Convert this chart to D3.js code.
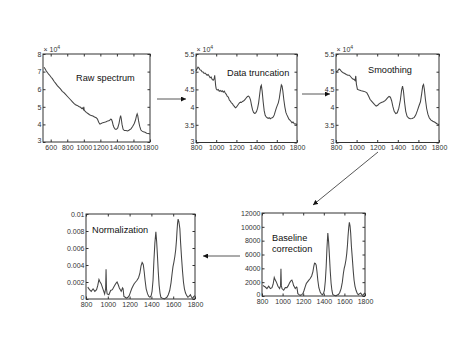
<!DOCTYPE html>
<html><head><meta charset="utf-8">
<script src="https://cdn.jsdelivr.net/npm/d3@7"></script>
<style>body{margin:0;background:#fff}svg{display:block}text{font-family:"Liberation Sans",Arial,sans-serif}</style>
</head><body>
<svg id="c" width="474" height="355"></svg>
<script>
// ---- data (wavenumber, intensity) ----
const rawSpectrum = [[520,7.25],[530,7.18],[545,7.05],[560,6.95],[575,6.85],[590,6.78],[605,6.68],[620,6.6],[640,6.45],[660,6.33],[680,6.2],[700,6.1],[720,6.0],[740,5.88],[760,5.8],[780,5.7],[800,5.6],[820,5.5],[840,5.4],[860,5.3],[880,5.2],[900,5.12],[920,5.08],[940,5.02],[960,4.98],[975,4.9],[985,4.93],[995,4.85],[1000,5.0],[1005,4.82],[1015,4.75],[1030,4.68],[1050,4.62],[1070,4.55],[1090,4.5],[1110,4.48],[1130,4.42],[1150,4.38],[1165,4.3],[1180,4.12],[1195,4.02],[1210,4.05],[1230,4.1],[1250,4.12],[1270,4.15],[1290,4.2],[1310,4.22],[1325,4.3],[1335,4.28],[1345,4.15],[1355,3.95],[1365,3.82],[1380,3.72],[1395,3.72],[1410,3.8],[1425,4.05],[1437,4.35],[1445,4.5],[1452,4.35],[1462,4.0],[1475,3.72],[1490,3.65],[1510,3.65],[1530,3.63],[1550,3.68],[1570,3.75],[1590,3.88],[1610,4.05],[1625,4.25],[1637,4.5],[1645,4.6],[1652,4.5],[1662,4.2],[1675,3.9],[1690,3.68],[1705,3.62],[1720,3.58],[1740,3.55],[1760,3.5],[1780,3.48],[1800,3.45]];

const truncatedSpectrum = [[800,5.02],[810,5.08],[820,5.13],[830,5.1],[840,5.05],[850,5.04],[860,5.0],[870,4.99],[880,4.95],[890,4.96],[900,4.93],[910,4.9],[920,4.92],[930,4.88],[940,4.83],[950,4.85],[960,4.78],[970,4.76],[980,4.8],[985,4.9],[990,4.75],[995,4.6],[1000,4.52],[1010,4.48],[1020,4.5],[1030,4.45],[1040,4.47],[1050,4.44],[1060,4.46],[1070,4.42],[1080,4.45],[1090,4.4],[1100,4.36],[1110,4.3],[1120,4.28],[1130,4.2],[1140,4.17],[1150,4.12],[1160,4.1],[1170,4.05],[1180,4.02],[1190,3.98],[1200,4.0],[1210,4.04],[1220,4.08],[1230,4.12],[1240,4.14],[1250,4.13],[1260,4.16],[1270,4.17],[1280,4.2],[1290,4.23],[1300,4.27],[1310,4.3],[1320,4.31],[1330,4.28],[1340,4.2],[1350,4.05],[1360,3.92],[1370,3.85],[1380,3.82],[1390,3.83],[1400,3.88],[1410,3.97],[1420,4.12],[1430,4.35],[1440,4.58],[1447,4.62],[1455,4.45],[1465,4.15],[1475,3.9],[1485,3.77],[1495,3.72],[1505,3.7],[1515,3.68],[1525,3.7],[1535,3.67],[1545,3.69],[1555,3.7],[1565,3.72],[1575,3.78],[1585,3.88],[1595,3.97],[1605,4.05],[1615,4.12],[1625,4.25],[1635,4.45],[1645,4.63],[1652,4.6],[1660,4.45],[1670,4.2],[1680,4.0],[1690,3.85],[1700,3.78],[1710,3.72],[1720,3.66],[1730,3.63],[1740,3.6],[1750,3.56],[1760,3.58],[1770,3.54],[1780,3.52],[1790,3.53],[1800,3.5]];

const smoothedSpectrum = [[800,5.0],[815,5.02],[830,5.08],[840,5.06],[855,5.0],[870,4.97],[885,4.95],[900,4.92],[915,4.9],[930,4.9],[945,4.85],[960,4.8],[975,4.78],[985,4.75],[992,4.88],[998,4.65],[1008,4.5],[1025,4.48],[1045,4.46],[1065,4.45],[1085,4.43],[1100,4.4],[1115,4.32],[1130,4.22],[1145,4.17],[1160,4.12],[1175,4.07],[1190,4.03],[1205,4.05],[1220,4.1],[1240,4.13],[1260,4.15],[1280,4.19],[1300,4.26],[1315,4.3],[1328,4.28],[1340,4.18],[1352,4.02],[1365,3.88],[1380,3.82],[1395,3.84],[1410,3.97],[1425,4.2],[1437,4.48],[1446,4.59],[1455,4.45],[1465,4.15],[1477,3.88],[1490,3.74],[1505,3.69],[1520,3.67],[1540,3.68],[1560,3.71],[1575,3.78],[1590,3.9],[1605,4.03],[1620,4.15],[1632,4.38],[1642,4.6],[1650,4.64],[1658,4.5],[1668,4.22],[1680,3.96],[1692,3.8],[1705,3.7],[1720,3.64],[1740,3.6],[1760,3.57],[1780,3.53],[1800,3.5]];

const baselineSpectrum = [[810,1550],[820,1400],[832,1300],[848,1060],[865,1410],[881,1060],[897,1200],[908,1700],[919,2670],[929,2300],[939,2040],[955,1410],[971,1070],[980,1500],[984,3950],[988,1500],[994,1070],[1010,830],[1026,1210],[1042,1210],[1055,1500],[1068,1900],[1080,2200],[1090,2300],[1100,1900],[1106,1550],[1123,1070],[1135,1300],[1139,1250],[1148,340],[1160,200],[1171,100],[1185,200],[1197,340],[1208,800],[1219,1310],[1230,1800],[1242,2040],[1255,2300],[1268,2520],[1282,2900],[1294,3500],[1303,4300],[1310,4750],[1318,4700],[1326,4470],[1334,3500],[1342,2280],[1352,1200],[1365,580],[1376,300],[1387,190],[1398,400],[1406,830],[1415,2200],[1423,4230],[1431,7000],[1439,9090],[1447,7800],[1455,5690],[1463,3500],[1471,1800],[1479,800],[1487,240],[1500,100],[1519,0],[1530,150],[1542,200],[1555,500],[1568,1070],[1580,2000],[1590,3260],[1598,4000],[1606,4470],[1615,5200],[1623,6170],[1630,7400],[1635,8600],[1642,9900],[1648,10640],[1655,10100],[1661,9090],[1668,7200],[1677,5440],[1686,3600],[1694,2280],[1703,1400],[1713,830],[1724,400],[1735,190],[1745,300],[1758,440],[1768,200],[1777,100],[1790,300],[1800,440]];

const normalizedSpectrum = [[816,0.0014],[832,0.0011],[848,0.0009],[865,0.0012],[881,0.0009],[897,0.0011],[908,0.0016],[919,0.0023],[929,0.002],[939,0.0018],[955,0.0012],[971,0.0006],[980,0.0012],[984,0.0035],[988,0.0012],[994,0.0006],[1010,0.0005],[1026,0.001],[1042,0.0011],[1055,0.0014],[1068,0.0017],[1078,0.0019],[1085,0.002],[1095,0.0017],[1106,0.0013],[1123,0.0009],[1135,0.0013],[1140,0.0012],[1148,0.0003],[1160,0.0002],[1171,0.0001],[1185,0.0002],[1197,0.0004],[1208,0.0008],[1219,0.0012],[1230,0.0015],[1242,0.0018],[1255,0.002],[1268,0.0022],[1282,0.0025],[1294,0.003],[1305,0.0039],[1315,0.0043],[1320,0.0042],[1326,0.004],[1334,0.0032],[1342,0.0022],[1352,0.0012],[1365,0.0006],[1376,0.0003],[1387,0.0002],[1398,0.0004],[1406,0.0009],[1415,0.0022],[1423,0.0045],[1432,0.0066],[1441,0.0079],[1448,0.0068],[1455,0.0052],[1463,0.0032],[1471,0.0016],[1479,0.0007],[1487,0.0002],[1500,0.0001],[1519,0.0],[1530,0.0001],[1542,0.0002],[1555,0.0005],[1568,0.001],[1580,0.0019],[1590,0.003],[1598,0.0038],[1606,0.0043],[1615,0.005],[1623,0.0058],[1630,0.0069],[1635,0.008],[1640,0.0089],[1645,0.0094],[1652,0.0091],[1661,0.0083],[1668,0.0066],[1677,0.0048],[1686,0.0032],[1694,0.002],[1703,0.0012],[1713,0.0007],[1724,0.0004],[1735,0.0002],[1745,0.0003],[1758,0.0005],[1768,0.0002],[1777,0.0001],[1790,0.0003],[1800,0.0004]];

const rawXTicks = [600,800,1000,1200,1400,1600,1800];
const xTicks = [800,1000,1200,1400,1600,1800];
const rawYTicks = [3,4,5,6,7,8];
const truncYTicks = [3,3.5,4,4.5,5,5.5];
const baseYTicks = [0,2000,4000,6000,8000,10000,12000];
const normYTicks = [0,0.002,0.004,0.006,0.008,0.01];
const titles = ["Raw spectrum","Data truncation","Smoothing",["Baseline","correction"],"Normalization"];

// ---- layout ----
const svg = d3.select("#c");
const panels = [
  {data:rawSpectrum, box:[43,150,54,142], xd:[507,1800], yd:[3,8], xt:rawXTicks, yt:rawYTicks, title:titles[0], tpos:[76,80.5], exp:true},
  {data:truncatedSpectrum, box:[196,297,54,142.5], xd:[800,1800], yd:[3,5.5], xt:xTicks, yt:truncYTicks, title:titles[1], tpos:[227,76], exp:true},
  {data:smoothedSpectrum, box:[336,439,54,142.5], xd:[800,1800], yd:[3,5.5], xt:xTicks, yt:truncYTicks, title:titles[2], tpos:[368,72.5], exp:true},
  {data:baselineSpectrum, box:[262,365,213,296], xd:[800,1800], yd:[0,12000], xt:xTicks, yt:baseYTicks, title:titles[3], tpos:[272,240.5], exp:false},
  {data:normalizedSpectrum, box:[86,195,214,299], xd:[800,1800], yd:[0,0.01], xt:xTicks, yt:normYTicks, title:titles[4], tpos:[92,232.5], exp:false}
];

const tickLen = 2.5;
panels.forEach(p => {
  const [x0,x1,y0,y1] = p.box;
  const x = d3.scaleLinear().domain(p.xd).range([x0,x1]);
  const y = d3.scaleLinear().domain(p.yd).range([y1,y0]);
  const g = svg.append("g");
  // spectrum
  g.append("path").datum(p.data)
    .attr("d", d3.line().x(d=>x(d[0])).y(d=>y(d[1])))
    .attr("fill","none").attr("stroke","#444").attr("stroke-width",1.05);
  // box
  g.append("rect").attr("x",x0).attr("y",y0).attr("width",x1-x0).attr("height",y1-y0)
    .attr("fill","none").attr("stroke","#333").attr("stroke-width",1);
  // axes with inward ticks
  const fmt = v => String(v);
  const ax = g.append("g").attr("transform",`translate(0,${y1})`)
    .call(d3.axisBottom(x).tickValues(p.xt).tickSize(-tickLen).tickPadding(3).tickFormat(fmt));
  const axT = g.append("g").attr("transform",`translate(0,${y0})`)
    .call(d3.axisTop(x).tickValues(p.xt).tickSize(-tickLen).tickFormat(""));
  const ay = g.append("g").attr("transform",`translate(${x0},0)`)
    .call(d3.axisLeft(y).tickValues(p.yt).tickSize(-tickLen).tickPadding(1.5).tickFormat(fmt));
  const ayR = g.append("g").attr("transform",`translate(${x1},0)`)
    .call(d3.axisRight(y).tickValues(p.yt).tickSize(-tickLen).tickFormat(""));
  [ax,axT,ay,ayR].forEach(a => {
    a.select(".domain").remove();
    a.selectAll("line").attr("stroke","#333");
    a.selectAll("text").attr("font-size","7px").attr("fill","#333")
      .attr("font-family",'"Liberation Sans",Arial,sans-serif');
  });
  // lift the lowest y label a little so it clears the x labels
  ay.selectAll(".tick").filter(d => d === p.yd[0]).select("text").attr("dy","0.1em");
  // exponent label
  if (p.exp) {
    const t = g.append("text").attr("x",x0+0.5).attr("y",y0-2).attr("font-size","7px").attr("fill","#333");
    t.append("tspan").text("× 10");
    t.append("tspan").attr("dy",-3).attr("font-size","5px").text("4");
  }
  // title
  if (Array.isArray(p.title)) {
    p.title.forEach((s,i) => g.append("text").attr("x",p.tpos[0]).attr("y",p.tpos[1]+i*11)
      .attr("font-size","9.2px").attr("fill","#111").text(s));
  } else {
    g.append("text").attr("x",p.tpos[0]).attr("y",p.tpos[1]).attr("font-size","9.2px").attr("fill","#111").text(p.title);
  }
});

// arrows
const defs = svg.append("defs");
defs.append("marker").attr("id","ah").attr("viewBox","0 0 10 10").attr("refX",10).attr("refY",5)
  .attr("markerWidth",5).attr("markerHeight",5).attr("markerUnits","userSpaceOnUse").attr("orient","auto")
  .append("path").attr("d","M0,0L10,5L0,10z").attr("fill","#111");
const arrows = [[157,99,186,99],[302,94,330,94],[378,152,313,205],[240,256,203,256]];
svg.selectAll("line.arrow").data(arrows).enter().append("line").attr("class","arrow")
  .attr("x1",d=>d[0]).attr("y1",d=>d[1]).attr("x2",d=>d[2]).attr("y2",d=>d[3])
  .attr("stroke","#444").attr("stroke-width",0.9).attr("marker-end","url(#ah)");
</script>
</body></html>
